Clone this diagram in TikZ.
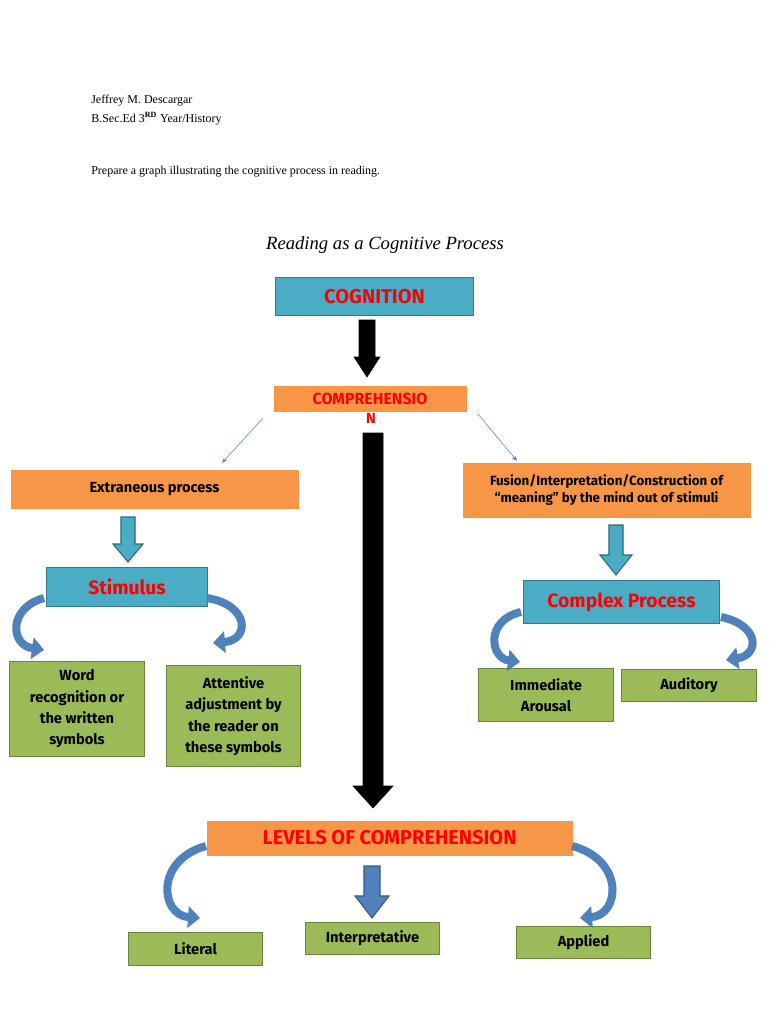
\documentclass[tikz,border=0pt]{standalone}
\usepackage{fontspec}
\setmainfont{Liberation Serif}
\newfontfamily\boxfont{Fira Sans}
\usetikzlibrary{arrows.meta}
\definecolor{cblue}{HTML}{4BACC6}
\definecolor{corange}{HTML}{F79646}
\definecolor{cgreen}{HTML}{9BBB59}
\definecolor{carrow}{HTML}{4F81BD}
\definecolor{cred}{HTML}{FF0000}
\newcommand\mydarrow[7]{\filldraw[#7] (#1-#4,#2)--(#1+#4,#2)--(#1+#4,#3-#6)--(#1+#5,#3-#6)--(#1,#3)--(#1-#5,#3-#6)--(#1-#4,#3-#6)--cycle;}
\tikzset{
 bx/.style={draw=#1!70!black,line width=0.8pt,fill=#1,anchor=north west,inner sep=0pt,align=center,font=\boxfont\bfseries},
 hdr/.style={anchor=west,font=\fontsize{9}{11}\selectfont,inner sep=0pt},
 blockarr/.style={draw=cblue!60!black,fill=cblue,line width=0.8pt},
 blackarr/.style={fill=black,draw=black},
 curv/.style={line width=6pt,draw=carrow,-{Triangle[length=9pt,width=16pt]}},
 thin/.style={draw=carrow,line width=0.4pt,-{Stealth[length=4pt]}}
}
\begin{document}
\begin{tikzpicture}[x=0.75pt,y=-0.75pt]
\useasboundingbox (0,0) rectangle (768,1024);
\fill[white] (0,0) rectangle (768,1024);
\node[hdr] (h1) at (91,101) {Jeffrey M. Descargar};
\node[hdr] (h2) at (91,119) {B.Sec.Ed 3\textsuperscript{\textbf{RD}} Year/History};
\node[hdr] (h3) at (91,172) {Prepare a graph illustrating the cognitive process in reading.};
\node[font=\itshape\fontsize{14}{16}\selectfont] (title) at (385,245) {Reading as a Cognitive Process};
% boxes
\node[bx=cblue,minimum width=198*0.75pt,minimum height=38*0.75pt,text=cred,font=\boxfont\bfseries\fontsize{15}{16}\selectfont] (cog) at (275,277) {COGNITION};
\node[bx=corange,draw=none,minimum width=193*0.75pt,minimum height=26*0.75pt,text=cred,font=\boxfont\bfseries\fontsize{12}{13}\selectfont] (comp) at (273,385) {COMPREHENSIO};
\node[text=cred,font=\boxfont\bfseries\fontsize{11}{12}\selectfont] (compn) at (371,418) {N};
\node[bx=corange,draw=none,minimum width=288*0.75pt,minimum height=39*0.75pt,font=\boxfont\bfseries\fontsize{11}{12}\selectfont] (extr) at (10,469) {Extraneous process};
\node[bx=corange,draw=none,minimum width=288*0.75pt,minimum height=55*0.75pt,font=\boxfont\bfseries\fontsize{10}{12.5}\selectfont] (fus) at (462,462) {Fusion/Interpretation/Construction of\\“meaning” by the mind out of stimuli};
\node[bx=cblue,minimum width=161*0.75pt,minimum height=39*0.75pt,text=cred,font=\boxfont\bfseries\fontsize{14.5}{16}\selectfont] (stim) at (46,567) {Stimulus};
\node[bx=cblue,minimum width=196*0.75pt,minimum height=43*0.75pt,text=cred,font=\boxfont\bfseries\fontsize{14.5}{16}\selectfont] (cplx) at (523,580) {Complex Process};
\node[bx=cgreen,minimum width=135*0.75pt,minimum height=95*0.75pt,font=\boxfont\bfseries\fontsize{11}{16}\selectfont] (word) at (9,661) {Word\\recognition or\\the written\\symbols};
\node[bx=cgreen,minimum width=134*0.75pt,minimum height=101*0.75pt,font=\boxfont\bfseries\fontsize{11}{16}\selectfont] (att) at (166,665) {Attentive\\adjustment by\\the reader on\\these symbols};
\node[bx=cgreen,minimum width=135*0.75pt,minimum height=53*0.75pt,font=\boxfont\bfseries\fontsize{11}{16}\selectfont] (imm) at (478,668) {Immediate\\Arousal};
\node[bx=cgreen,minimum width=135*0.75pt,minimum height=32*0.75pt,font=\boxfont\bfseries\fontsize{11}{13}\selectfont] (aud) at (621,669) {Auditory};
\node[bx=corange,draw=none,minimum width=366*0.75pt,minimum height=35*0.75pt,text=cred,font=\boxfont\bfseries\fontsize{15}{16}\selectfont] (lev) at (206,820) {LEVELS OF COMPREHENSION};
\node[bx=cgreen,minimum width=134*0.75pt,minimum height=33*0.75pt,font=\boxfont\bfseries\fontsize{11}{13}\selectfont] (lit) at (128,932) {Literal};
\node[bx=cgreen,minimum width=134*0.75pt,minimum height=32*0.75pt,font=\boxfont\bfseries\fontsize{11}{13}\selectfont] (int) at (305,922) {Interpretative};
\node[bx=cgreen,minimum width=134*0.75pt,minimum height=32*0.75pt,font=\boxfont\bfseries\fontsize{11}{13}\selectfont] (app) at (516,926) {Applied};
% black arrows
\mydarrow{367}{320}{377}{8}{13}{20}{blackarr}
\mydarrow{373}{433}{808}{10}{20}{22}{blackarr}
% thin arrows
\draw[thin] (263,418) -- (222,463);
\draw[thin] (478,414) -- (517,461);
% block arrows
\mydarrow{128}{517}{562}{7}{15}{18}{blockarr}
\mydarrow{616}{525}{575}{7}{16}{20}{blockarr}
\mydarrow{372}{866}{918}{8}{17}{22}{blockarr,fill=carrow,draw=carrow!70!black}
% curved arrows
\draw[curv] (44,598) .. controls (8,608) and (10,645) .. (44,650);
\draw[curv] (207,598) .. controls (250,605) and (250,640) .. (213,643);
\draw[curv] (521,612) .. controls (485,620) and (490,658) .. (520,662);
\draw[curv] (721,617) .. controls (760,625) and (760,655) .. (726,660);
\draw[curv] (206,846) .. controls (155,860) and (160,915) .. (200,918);
\draw[curv] (572,846) .. controls (625,860) and (620,915) .. (580,918);
\end{tikzpicture}
\end{document}
